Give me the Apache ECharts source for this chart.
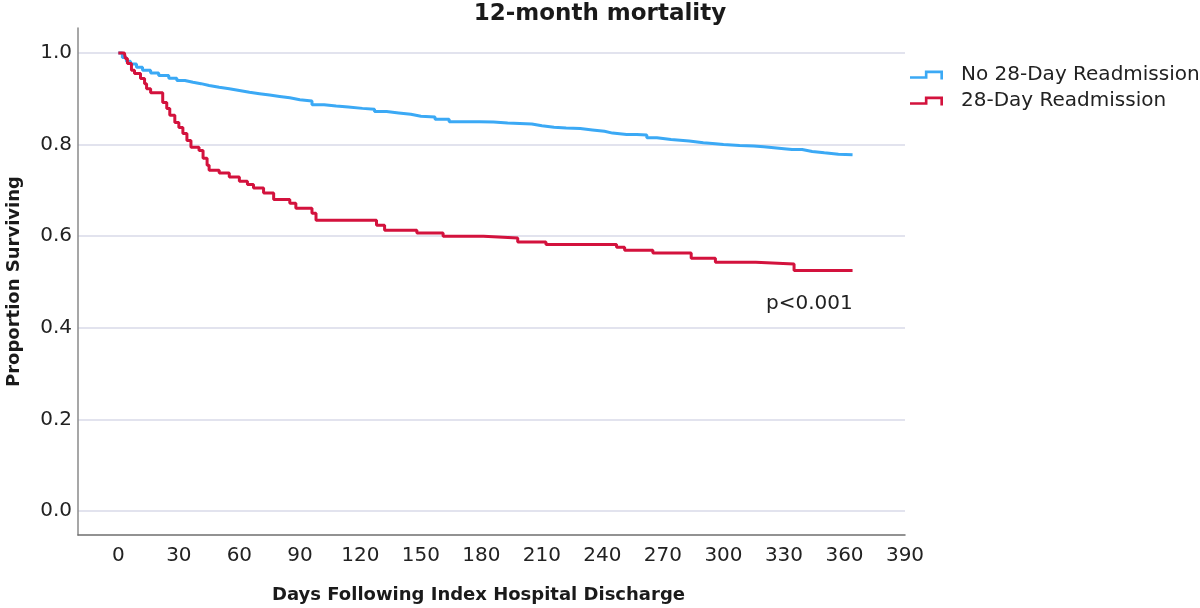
<!DOCTYPE html>
<html>
<head>
<meta charset="utf-8">
<script src="https://cdn.jsdelivr.net/npm/echarts@6/dist/echarts.min.js"></script>
<style>
html,body{margin:0;padding:0;background:#fff;}
#chart{width:1200px;height:608px;}
</style>
</head>
<body>
<div id="chart"></div>
<script>
// Kaplan-Meier survival estimates
const seriesNames = ['No 28-Day Readmission', '28-Day Readmission'];
const chartTitle = '12-month mortality';
const xAxisName = 'Days Following Index Hospital Discharge';
const yAxisName = 'Proportion Surviving';
const pValueText = 'p<0.001';

const noReadmitDays = [0,2,4,6,9,12,16,20,25,29,33,37,41,45,50,55,60,65,70,75,80,85,90,96,102,108,114,121,127,133,139,145,150,157,164,172,179,186,193,199,205,210,216,222,229,235,241,245,252,257,262,267,274,283,290,296,300,308,315,320,325,330,334,339,344,350,357,364];
const noReadmitSurv = [1.0,0.99,0.982,0.976,0.969,0.962,0.956,0.951,0.945,0.940,0.936,0.933,0.929,0.925,0.922,0.918,0.914,0.911,0.908,0.905,0.902,0.898,0.895,0.887,0.884,0.882,0.879,0.877,0.872,0.869,0.866,0.862,0.860,0.855,0.850,0.850,0.849,0.847,0.846,0.845,0.841,0.838,0.836,0.835,0.832,0.829,0.825,0.822,0.822,0.821,0.815,0.811,0.808,0.804,0.802,0.800,0.798,0.797,0.795,0.793,0.791,0.789,0.789,0.785,0.782,0.779,0.778,0.777];

const readmitDays = [0,3,3.5,4.5,6.5,8,11,13,14,16,22,24,25.5,28,30,32,34,36,40,42,44,45,50,55,60,64,67,72,77,85,88,96,98,128,132,148,161,181,198,212,247,251,265,284,296,316,335,364];
const readmitSurv = [1.0,1.0,0.988,0.977,0.962,0.955,0.944,0.933,0.922,0.913,0.892,0.879,0.864,0.848,0.837,0.824,0.809,0.794,0.787,0.770,0.755,0.744,0.738,0.729,0.720,0.713,0.705,0.694,0.680,0.672,0.661,0.650,0.635,0.624,0.613,0.607,0.600,0.596,0.587,0.582,0.576,0.569,0.563,0.552,0.543,0.539,0.525,0.525];

const xTickLabels = [0,30,60,90,120,150,180,210,240,270,300,330,360,390];
const yTickLabels = [0.0,0.2,0.4,0.6,0.8,1.0];

const colors = ['#3BA9F5', '#D3123D'];

function pairs(xs, ys){ return xs.map((x,i)=>[x, ys[i]]); }

const stepIcon = 'path://M0,17 L45,17 L45,0 L100,0 L100,27 L92,27 L92,8 L53,8 L53,25 L0,25 Z';

const chart = echarts.init(document.getElementById('chart'), null, {renderer:'canvas'});
const option = {
  animation: false,
  backgroundColor: '#fff',
  color: colors,
  title: {
    text: chartTitle,
    left: 600, top: 3, textAlign: 'center', padding: 0,
    textStyle: {fontFamily: 'DejaVu Sans', fontWeight: 'bold', fontSize: 23, color: '#1a1a1a'}
  },
  legend: {
    orient: 'vertical',
    left: 905, top: 60,
    itemWidth: 33, itemHeight: 10, itemGap: 6,
    icon: stepIcon,
    data: seriesNames,
    textStyle: {fontFamily: 'DejaVu Sans', fontSize: 20, color: '#222', padding: [0,0,0,13]}
  },
  grid: {left: 78, right: 295, top: 28, bottom: 73, containLabel: false, outerBoundsMode: 'none'},
  xAxis: {
    type: 'value',
    min: -20, max: 390,
    name: xAxisName, nameLocation: 'middle', nameGap: 51,
    nameTextStyle: {fontFamily: 'DejaVu Sans', fontWeight: 'bold', fontSize: 18, color: '#1a1a1a', padding: [0, 26, 0, 0]},
    axisLine: {show: true, onZero: false, lineStyle: {color: '#6f6f6f', width: 1.5}},
    axisTick: {show: false, customValues: xTickLabels},
    splitLine: {show: false},
    axisLabel: {
      margin: 11, fontFamily: 'DejaVu Sans', fontSize: 20, color: '#222',
      customValues: xTickLabels,
      formatter: v => String(Math.round(v))
    }
  },
  yAxis: {
    type: 'value',
    min: -0.0525, max: 1.0545,
    name: yAxisName, nameLocation: 'middle', nameGap: 55, nameRotate: 90,
    nameTextStyle: {fontFamily: 'DejaVu Sans', fontWeight: 'bold', fontSize: 18, color: '#1a1a1a'},
    axisLine: {show: true, onZero: false, lineStyle: {color: '#8a8a8a', width: 1.5}},
    axisTick: {show: false, customValues: yTickLabels},
    splitLine: {show: true, lineStyle: {color: '#D9DAE8', width: 1.5}},
    axisLabel: {
      margin: 6, fontFamily: 'DejaVu Sans', fontSize: 20, color: '#222',
      customValues: yTickLabels,
      formatter: v => v.toFixed(1)
    }
  },
  series: [
    {
      name: seriesNames[0], type: 'line', step: 'end', showSymbol: false, symbol: 'none',
      lineStyle: {width: 3, color: colors[0]},
      data: pairs(noReadmitDays, noReadmitSurv), z: 3
    },
    {
      name: seriesNames[1], type: 'line', step: 'end', showSymbol: false, symbol: 'none',
      lineStyle: {width: 3, color: colors[1]},
      data: pairs(readmitDays, readmitSurv), z: 4
    }
  ],
  graphic: [{
    type: 'text', left: 766, top: 294,
    style: {text: pValueText, font: '20px "DejaVu Sans"', fill: '#222'}
  }]
};
chart.setOption(option);
</script>
</body>
</html>
